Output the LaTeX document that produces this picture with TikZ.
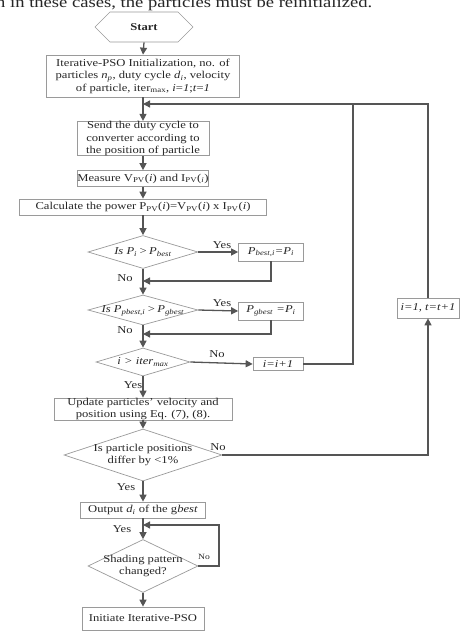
\documentclass[tikz,border=0pt]{standalone}
\usepackage{fontspec}
\setmainfont{Liberation Serif}[FakeStretch=1.2]
\usetikzlibrary{arrows.meta,shapes.geometric,shapes.symbols}
\definecolor{linegray}{HTML}{555555}
\definecolor{boxgray}{HTML}{9A9A9A}
\newcommand{\isb}[1]{\textsubscript{\textit{#1}}}
\newcommand{\dtext}[1]{\makebox[0pt]{\begin{tabular}{@{}c@{}}#1\end{tabular}}}

\begin{document}
\begin{tikzpicture}[x=1pt,y=-1pt,
  every node/.style={font=\fontsize{10.5}{12.5}\selectfont,text=black!85},
  box/.style={draw=boxgray,line width=.7pt,fill=white,align=center,inner sep=0pt},
  decision/.style={diamond,draw=boxgray,line width=.7pt,fill=white,inner sep=0pt},
  line/.style={draw=linegray,line width=1.3pt},
  arrow/.style={line,-{Triangle[length=7pt,width=7pt]}},
  tag/.style={inner sep=0pt}]
\useasboundingbox (0,0) rectangle (474,632);
% text of the page above the chart, cut off
\begin{scope}
\clip (0,0) rectangle (474,20);
\node[anchor=base west,inner sep=0pt,font=\fontsize{15.5}{18}\selectfont] (caption) at (-4,7) {n in these cases, the particles must be reinitialized.};
\end{scope}
% main column
\node[signal,signal to=west and east,draw=boxgray,line width=.7pt,minimum width=98,minimum height=30,inner sep=0pt,font=\bfseries\fontsize{10.5}{12.5}\selectfont] (start) at (144,27) {Start};
\node[box,minimum width=193,minimum height=42] (init) at (143,76) {Iterative-PSO Initialization, no. of\\particles \textit{n}\isb{p}, duty cycle \textit{d}\isb{i}, velocity\\of particle, iter\textsubscript{max}, \textit{i}=\textit{1};\textit{t}=\textit{1}};
\node[box,minimum width=132,minimum height=33] (send) at (143,138.5) {Send the duty cycle to\\converter according to\\the position of particle};
\node[box,minimum width=131,minimum height=16] (measure) at (143,178.5) {Measure V\textsubscript{PV}(\textit{i}) and I\textsubscript{PV}(\isb{i})};
\node[box,minimum width=247,minimum height=16] (power) at (143,207) {Calculate the power P\textsubscript{PV}(\textit{i})=V\textsubscript{PV}(\textit{i}) x I\textsubscript{PV}(\textit{i})};
\node[decision,minimum width=110,minimum height=33] (d1) at (143,252) {\dtext{\textit{Is P}\isb{i}\,\textit{>}\,\textit{P}\isb{best}}};
\node[decision,minimum width=110,minimum height=30] (d2) at (143,310) {\dtext{\textit{Is P}\isb{pbest,i}\,\textit{>}\,\textit{P}\isb{gbest}}};
\node[decision,minimum width=94,minimum height=28] (d3) at (143,362) {\dtext{\textit{i} \textit{>} \textit{iter}\isb{max}}};
\node[box,minimum width=178,minimum height=22] (update) at (143,409) {Update particles' velocity and\\position using Eq. (7), (8).};
\node[decision,minimum width=158,minimum height=52] (d4) at (143,455) {\dtext{Is particle positions\\differ by <1\%}};
\node[box,minimum width=125,minimum height=16] (output) at (143,510) {Output \textit{d}\isb{i} of the g\textit{best}};
\node[decision,minimum width=110,minimum height=53] (d5) at (143,566) {\dtext{Shading pattern\\changed?}};
\node[box,minimum width=122,minimum height=23] (final) at (143,618.5) {Initiate Iterative-PSO};
% side boxes
\node[box,minimum width=65,minimum height=18] (pbest) at (271,252) {\textit{P}\isb{best,i}\textit{=P}\isb{i}};
\node[box,minimum width=65,minimum height=18] (gbest) at (271,311) {\textit{P}\isb{gbest}\textit{ =P}\isb{i}};
\node[box,minimum width=50,minimum height=13] (inc) at (278,364) {\textit{i=i+1}};
\node[box,minimum width=62,minimum height=20] (reset) at (428,308) {\textit{i=1, t=t+1}};
% junctions
\coordinate (j0) at (143,104);
\coordinate (j1) at (143,281);
\coordinate (j2) at (143,334);
\coordinate (j5) at (143,525);
\coordinate (r3) at (353,104);
\coordinate (r5) at (219,525);
% connectors
\draw[arrow] (start.south) -- (init.north);
\draw[arrow] (init.south) -- (send.north);
\draw[arrow] (send.south) -- (measure.north);
\draw[arrow] (measure.south) -- (power.north);
\draw[arrow] (power.south) -- (d1.north);
\draw[arrow] (d1.east) -- (pbest.west);
\draw[arrow] (d1.south) -- (d2.north);
\draw[arrow] (pbest.south) |- (j1);
\draw[arrow] (d2.east) -- (gbest.west);
\draw[arrow] (d2.south) -- (d3.north);
\draw[arrow] (gbest.south) |- (j2);
\draw[arrow] (d3.east) -- (inc.west);
\draw[line] (inc.east) -| (r3);
\draw[arrow] (d3.south) -- (update.north);
\draw[arrow] (update.south) -- (d4.north);
\draw[arrow] (d4.east) -| (reset.south);
\draw[arrow] (reset.north) |- (j0);
\draw[arrow] (d4.south) -- (output.north);
\draw[arrow] (output.south) -- (d5.north);
\draw[arrow] (d5.east) -| (r5) -- (j5);
\draw[arrow] (d5.south) -- (final.north);
% labels
\node[tag] (yes1) at (222,245) {Yes};
\node[tag] (no1) at (125,278) {No};
\node[tag] (yes2) at (222,303) {Yes};
\node[tag] (no2) at (125,330) {No};
\node[tag] (no3) at (217,354) {No};
\node[tag] (yes3) at (133,385) {Yes};
\node[tag] (no4) at (218,447) {No};
\node[tag] (yes4) at (126,487) {Yes};
\node[tag] (yes5) at (122,529) {Yes};
\node[tag,font=\fontsize{8}{9}\selectfont] (no5) at (204,557) {No};
\end{tikzpicture}
\end{document}
